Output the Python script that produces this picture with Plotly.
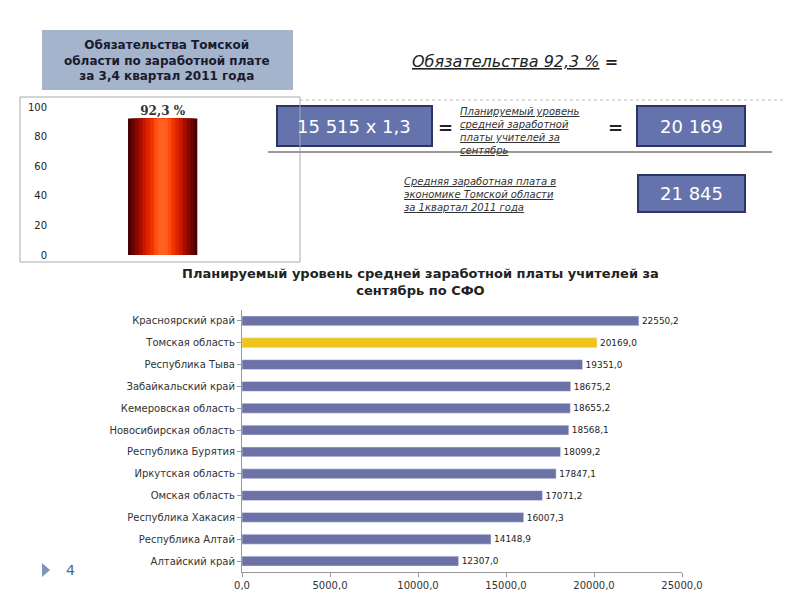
import plotly.graph_objects as go

regions = ["Красноярский край","Томская область","Республика Тыва","Забайкальский край",
           "Кемеровская область","Новосибирская область","Республика Бурятия","Иркутская область",
           "Омская область","Республика Хакасия","Республика Алтай","Алтайский край"]
salaries = [22550.2,20169.0,19351.0,18675.2,18655.2,18568.1,18099.2,17847.1,17071.2,16007.3,14148.9,12307.0]
x_ticks = [0,5000,10000,15000,20000,25000]
x_tick_text = ["0,0","5000,0","10000,0","15000,0","20000,0","25000,0"]
share = [92.3]

W, H = 800, 600
OFF = 8  # page body margin
def px(x): return (x - OFF) / W
def py(y): return 1 - (y - OFF) / H

fig = go.Figure()
grad = [("#4a0000",0.275),("#6a0300",0.25),("#8a0800",0.22),("#a80e00",0.19),("#c81800",0.16),
        ("#e02400",0.13),("#f03400",0.10),("#ff4a10",0.07),("#ff6020",0.04)]
for c, w in grad:
    fig.add_trace(go.Bar(x=[0.455], y=share, width=w, marker=dict(color=c, line=dict(width=0)),
                         xaxis="x", yaxis="y", showlegend=False, hoverinfo="skip"))
fig.add_trace(go.Scatter(x=[0.455], y=share, mode="text", text=["<b>92,3 %</b>"], textposition="top center",
                         textfont=dict(size=12, color="#333", family="DejaVu Serif"), xaxis="x", yaxis="y",
                         showlegend=False, cliponaxis=False))

colors = ["#f0c419" if r == "Томская область" else "#6c72a6" for r in regions]
fig.add_trace(go.Bar(x=salaries, y=regions, orientation="h", marker=dict(color=colors), width=0.45,
                     text=[f"{v:.1f}".replace(".", ",") for v in salaries], textposition="outside",
                     textfont=dict(size=10, color="#222"), cliponaxis=False,
                     xaxis="x2", yaxis="y2", showlegend=False))

def ann(x, y, text, size, color="#222", xanchor="center", align="center"):
    return dict(x=px(x), y=py(y), xref="paper", yref="paper", xanchor=xanchor, yanchor="middle",
                showarrow=False, text=text, font=dict(size=size, color=color), align=align)

fig.update_layout(
    width=W, height=H, margin=dict(l=0, r=0, t=0, b=0, autoexpand=False), paper_bgcolor="white",
    plot_bgcolor="white", barmode="overlay", font=dict(family="DejaVu Sans", size=10, color="#222"),
    xaxis=dict(domain=[px(48), px(300)], range=[0, 1], visible=False),
    yaxis=dict(domain=[py(255), py(107)], range=[0, 100], tickvals=[0,20,40,60,80,100],
               showgrid=False, showline=False, ticks="", tickfont=dict(size=10), zeroline=False),
    xaxis2=dict(domain=[px(242), px(682)], range=[0, 25000], tickvals=x_ticks, ticktext=x_tick_text,
                showgrid=False, showline=True, linecolor="#999", ticks="outside", ticklen=4,
                tickcolor="#999", anchor="y2", zeroline=False, tickfont=dict(size=10, color="#333")),
    yaxis2=dict(domain=[py(572), py(310)], autorange="reversed", showline=True, linecolor="#999",
                ticks="outside", ticklen=4, tickcolor="#999", anchor="x2", tickfont=dict(size=10, color="#333")),
    shapes=[
        dict(type="rect", xref="paper", yref="paper", x0=px(20), x1=px(300), y0=py(262), y1=py(97),
             line=dict(color="#aaa", width=1)),
        dict(type="rect", xref="paper", yref="paper", x0=px(42), x1=px(293), y0=py(90), y1=py(30),
             fillcolor="#a4b4cc", line=dict(width=0), layer="below"),
        dict(type="line", xref="paper", yref="paper", x0=px(300), x1=px(785), y0=py(100), y1=py(100),
             line=dict(color="#bbb", width=1, dash="dot")),
        dict(type="line", xref="paper", yref="paper", x0=px(268), x1=px(772), y0=py(152), y1=py(152),
             line=dict(color="#999", width=2)),
        dict(type="rect", xref="paper", yref="paper", x0=px(277), x1=px(432), y0=py(146), y1=py(106),
             fillcolor="#6573ac", line=dict(color="#2c3660", width=2), layer="below"),
        dict(type="rect", xref="paper", yref="paper", x0=px(637), x1=px(745), y0=py(146), y1=py(106),
             fillcolor="#6573ac", line=dict(color="#2c3660", width=2), layer="below"),
        dict(type="rect", xref="paper", yref="paper", x0=px(638), x1=px(745), y0=py(212), y1=py(175),
             fillcolor="#6573ac", line=dict(color="#2c3660", width=2), layer="below"),
        dict(type="path", xref="paper", yref="paper",
             path=f"M {px(42)} {py(563)} L {px(50)} {py(570)} L {px(42)} {py(577)} Z",
             fillcolor="#7b96b8", line=dict(width=0)),
    ],
    annotations=[
        ann(167, 60, "<b>Обязательства Томской<br>области по заработной плате<br>за 3,4 квартал 2011 года</b>", 12, "#1a1a2e"),
        ann(410, 62, "<i><u>Обязательства 92,3 %</u></i> <b>=</b>", 16, xanchor="left"),
        ann(354, 126, "15 515 х 1,3", 18, "white"),
        ann(691, 126, "20 169", 18, "white"),
        ann(691, 193, "21 845", 18, "white"),
        ann(445, 128, "<b>=</b>", 18),
        ann(615, 128, "<b>=</b>", 18),
        ann(458, 131, "<i><u>Планируемый уровень<br>средней заработной<br>платы учителей за<br>сентябрь</u></i>", 10, "#333", "left", "left"),
        ann(402, 194, "<i><u>Средняя заработная плата в<br>экономике Томской области<br>за 1квартал 2011 года</u></i>", 10, "#333", "left", "left"),
        ann(420, 282, "<b>Планируемый уровень средней заработной платы учителей за<br>сентябрь по СФО</b>", 13),
        ann(70, 570, "4", 14, "#4a6a90"),
    ],
)
fig.write_html("out.html")
